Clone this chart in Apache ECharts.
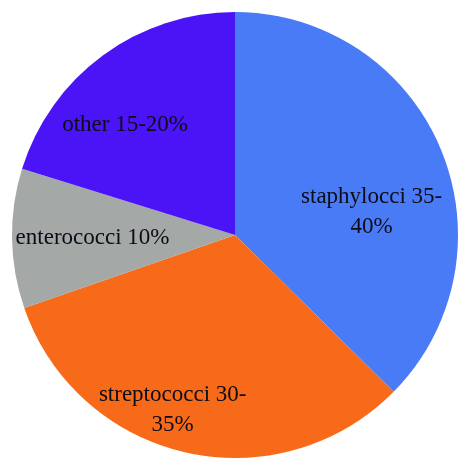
<!DOCTYPE html>
<html>
<head>
<meta charset="utf-8">
<style>
  html, body { margin: 0; padding: 0; background: #ffffff; }
  #chart { width: 474px; height: 474px; }
</style>
<script src="https://cdn.jsdelivr.net/npm/echarts@6/dist/echarts.min.js"></script>
</head>
<body>
<div id="chart"></div>
<script>
// Data (slice shares, clockwise from 12 o'clock)
const categories = ['staphylococci', 'streptococci', 'enterococci', 'other'];
const labelTexts = ['staphylocci 35-\n40%', 'streptococci 30-\n35%', 'enterococci 10%', 'other 15-20%'];
const values = [37.4, 32.3, 10.1, 20.2];

// Styling (not data)
const colors = ['#4a7bf6', '#f76a1a', '#a4a8a7', '#4b14f6'];
const labelOffsets = [[31, 21], [-37, 63], [-28, 1], [-42, -18]];

const chart = echarts.init(document.getElementById('chart'), null, { renderer: 'canvas' });

const data = categories.map((c, i) => ({
  name: c,
  value: values[i],
  itemStyle: { color: colors[i] },
  label: {
    formatter: labelTexts[i],
    offset: labelOffsets[i]
  }
}));

chart.setOption({
  animation: false,
  backgroundColor: '#ffffff',
  series: [{
    type: 'pie',
    center: [235, 235],
    radius: 223,
    startAngle: 90,
    clockwise: true,
    avoidLabelOverlap: false,
    label: {
      show: true,
      position: 'inside',
      rotate: 0,
      color: '#0c0c16',
      fontFamily: 'Liberation Serif',
      fontSize: 23,
      lineHeight: 30,
      align: 'center'
    },
    labelLine: { show: false },
    itemStyle: { borderWidth: 0 },
    emphasis: { disabled: true },
    data: data
  }]
});
</script>
</body>
</html>
